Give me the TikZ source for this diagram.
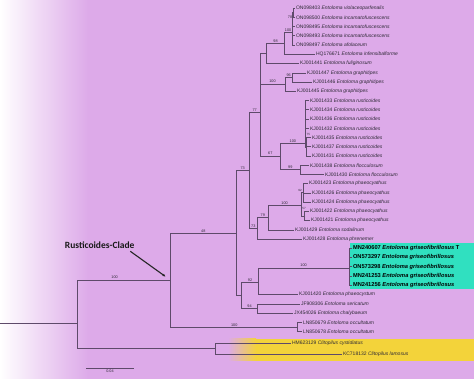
\documentclass[tikz,border=0pt]{standalone}
\usepackage{fontspec}
\setmainfont{Liberation Sans}
\newfontfamily\cladefont{Carlito}
\usetikzlibrary{arrows.meta}
\definecolor{treebg}{HTML}{DDAAE9}
\definecolor{treeline}{HTML}{5E4A6A}
\definecolor{treeink}{HTML}{2E2A36}
\definecolor{newsp}{HTML}{30E0C0}
\definecolor{outgrp}{HTML}{F3D33A}

\begin{document}
\begin{tikzpicture}[x=1pt, y=-1pt,
  br/.style={draw=treeline, line width=0.6pt},
  leaf/.style={anchor=west, inner sep=0.8pt, text=treeink, font=\fontsize{5}{6}\selectfont},
  newleaf/.style={anchor=west, inner sep=0.8pt, text=black, font=\fontsize{5.7}{6}\selectfont\bfseries},
  bs/.style={above, pos=0.75, inner sep=0.8pt, text=treeink, font=\fontsize{3.8}{4}\selectfont},
  bsx/.style={inner sep=0.3pt, text=treeink, font=\fontsize{3}{3}\selectfont},
  clarrow/.style={draw=black!85, line width=1.1pt, -{Latex[length=3.2pt,width=2.8pt]}},
]
\useasboundingbox (0,0) rectangle (474,379);

% ---- backgrounds ----
\fill[treebg] (0,0) rectangle (474,379);
\shade[left color=white, right color=treebg] (0,0) rectangle (88,379);
\fill[newsp] (350,243.3) rectangle (474,289.3);
\shade[left color=treebg, right color=outgrp] (228,339) rectangle (256,361);
\fill[outgrp] (256,339) rectangle (474,361);

% ---- leaves ----
\node[leaf] (l1)  at (295,8.3)   {ON098403 \textit{Entoloma violaceoparfenalis}};
\node[leaf] (l2)  at (295,17.3)  {ON098500 \textit{Entoloma incarnatofuscescens}};
\node[leaf] (l3)  at (295,26.7)  {ON098495 \textit{Entoloma incarnatofuscescens}};
\node[leaf] (l4)  at (295,35.7)  {ON098493 \textit{Entoloma incarnatofuscescens}};
\node[leaf] (l5)  at (295,45)    {ON098497 \textit{Entoloma afolaceum}};
\node[leaf] (l6)  at (315,54.3)  {HQ176671 \textit{Entoloma infensibalforme}};
\node[leaf] (l7)  at (299,63.3)  {KJ001441 \textit{Entoloma fuliginosum}};
\node[leaf] (l8)  at (306,73)    {KJ001447 \textit{Entoloma graphitipes}};
\node[leaf] (l9)  at (312,82)    {KJ001446 \textit{Entoloma graphitipes}};
\node[leaf] (l10) at (296,91.3)  {KJ001445 \textit{Entoloma graphitipes}};
\node[leaf] (l11) at (309,100.7) {KJ001433 \textit{Entoloma rusticoides}};
\node[leaf] (l12) at (309,109.7) {KJ001434 \textit{Entoloma rusticoides}};
\node[leaf] (l13) at (309,119)   {KJ001436 \textit{Entoloma rusticoides}};
\node[leaf] (l14) at (309,128.3) {KJ001432 \textit{Entoloma rusticoides}};
\node[leaf] (l15) at (311,137.7) {KJ001435 \textit{Entoloma rusticoides}};
\node[leaf] (l16) at (311,146.7) {KJ001437 \textit{Entoloma rusticoides}};
\node[leaf] (l17) at (311,156)   {KJ001431 \textit{Entoloma rusticoides}};
\node[leaf] (l18) at (309,165.3) {KJ001438 \textit{Entoloma flocculosum}};
\node[leaf] (l19) at (324,174.3) {KJ001430 \textit{Entoloma flocculosum}};
\node[leaf] (l20) at (308,183.7) {KJ001423 \textit{Entoloma phaeocyathus}};
\node[leaf] (l21) at (311,193)   {KJ001426 \textit{Entoloma phaeocyathus}};
\node[leaf] (l22) at (311,202)   {KJ001424 \textit{Entoloma phaeocyathus}};
\node[leaf] (l23) at (309,211.3) {KJ001422 \textit{Entoloma phaeocyathus}};
\node[leaf] (l24) at (310,220.7) {KJ001421 \textit{Entoloma phaeocyathus}};
\node[leaf] (l25) at (294,230)   {KJ001429 \textit{Entoloma sodalinum}};
\node[leaf] (l26) at (302,239.3) {KJ001428 \textit{Entoloma phrenemer}};
\node[newleaf] (l27) at (352,248.3) {MN240607 \textit{Entoloma griseofibrillosus} T};
\node[newleaf] (l28) at (352,257.3) {ON573297 \textit{Entoloma griseofibrillosus}};
\node[newleaf] (l29) at (352,266.7) {ON573298 \textit{Entoloma griseofibrillosus}};
\node[newleaf] (l30) at (352,276)   {MN241253 \textit{Entoloma griseofibrillosus}};
\node[newleaf] (l31) at (352,285.3) {MN241256 \textit{Entoloma griseofibrillosus}};
\node[leaf] (l32) at (298,294.7) {KJ001420 \textit{Entoloma phaeocystum}};
\node[leaf] (l33) at (300,304)   {JF908306 \textit{Entoloma sericatum}};
\node[leaf] (l34) at (293,313.3) {JX454026 \textit{Entoloma chalybaeum}};
\node[leaf] (l35) at (302,322.7) {LN850679 \textit{Entoloma occultatum}};
\node[leaf] (l36) at (302,331.7) {LN850678 \textit{Entoloma occultatum}};
\node[leaf] (o1)  at (291,343.3) {HM623129 \textit{Clitopilus cystidiatus}};
\node[leaf] (o2)  at (342,354.3) {KC718132 \textit{Clitopilus lamosus}};

% ---- internal nodes ----
\coordinate (r0)    at (0,323.3);
\coordinate (r)     at (77.3,323.3);
\coordinate (nB)    at (170.7,280);
\coordinate (nOut)  at (215.7,348.8);
\coordinate (nC)    at (236,233.3);
\coordinate (nLN)   at (297.7,327.2);
\coordinate (nE)    at (249.3,170.7);
\coordinate (nF)    at (241.7,295);
\coordinate (n77)   at (260,112.7);
\coordinate (n73b)  at (257.3,228.3);
\coordinate (n98)   at (266.7,53.3);
\coordinate (n100a) at (284.3,43.3);
\coordinate (n100b) at (292,32.3);
\coordinate (n78)   at (293.5,12.8);
\coordinate (nGr)   at (285,84);
\coordinate (n96)   at (292.3,77.5);
\coordinate (n67)   at (280.7,156);
\coordinate (nR)    at (305,143.3);
\coordinate (n75)   at (306.5,147);
\coordinate (n99)   at (300,169.8);
\coordinate (n79)   at (268.3,217.3);
\coordinate (nPh)   at (301,205.3);
\coordinate (n92s)  at (303,192.8);
\coordinate (n57)   at (304.5,216);
\coordinate (n92)   at (258.3,282.3);
\coordinate (nG)    at (349,268);
\coordinate (n94)   at (257.3,308.7);

% ---- branches ----
\draw[br] (r0) -- (r);
\draw[br] (r) |- node[bs,pos=0.7]{100} (nB);
\draw[br] (r) |- (nOut);
\draw[br] (nOut) |- (o1.west);
\draw[br] (nOut) |- (o2.west);

\draw[br] (nB) |- node[bs]{48} (nC);
\draw[br] (nB) |- node[bs]{100} (nLN);
\draw[br] (nLN) |- (l35.west);
\draw[br] (nLN) |- (l36.west);

\draw[br] (nC) |- node[bs]{73} (nE);
\draw[br] (nC) |- (nF);

\draw[br] (nE) |- node[bs]{77} (n77);
\draw[br] (nE) |- node[bs]{73} (n73b);

\draw[br] (n77) |- (n98);
\draw[br] (n98) |- node[bs]{98} (n100a);
\draw[br] (n98) |- (l7.west);
\draw[br] (n100a) |- node[bs]{100} (n100b);
\draw[br] (n100a) |- (l6.west);
\draw[br] (n100b) |- (n78);
\foreach \l in {l3,l4,l5} \draw[br] (n100b) |- (\l.west);
\foreach \l in {l1,l2} \draw[br] (n78) |- (\l.west);
\node[bsx, font=\fontsize{3.8}{4}\selectfont] (b78) at (290,17.3) {78};

\draw[br] (n77) |- node[bs]{100} (nGr);
\draw[br] (nGr) |- node[bs]{96} (n96);
\draw[br] (nGr) |- (l10.west);
\foreach \l in {l8,l9} \draw[br] (n96) |- (\l.west);

\draw[br] (n77) |- node[bs]{67} (n67);
\draw[br] (n67) |- node[bs]{100} (nR);
\foreach \l in {l11,l12,l13,l14} \draw[br] (nR) |- (\l.west);
\draw[br] (nR) |- (n75);
\foreach \l in {l15,l16,l17} \draw[br] (n75) |- (\l.west);
\node[bsx] (b75) at (308.3,134.3) {75};
\draw[br] (n67) |- node[bs]{99} (n99);
\foreach \l in {l18,l19} \draw[br] (n99) |- (\l.west);

\draw[br] (n73b) |- node[bs]{79} (n79);
\draw[br] (n73b) |- (l26.west);
\draw[br] (n79) |- node[bs]{100} (nPh);
\draw[br] (n79) |- (l25.west);
\draw[br] (nPh) |- (n92s);
\draw[br] (nPh) |- (n57);
\foreach \l in {l20,l21,l22} \draw[br] (n92s) |- (\l.west);
\foreach \l in {l23,l24} \draw[br] (n57) |- (\l.west);
\node[bsx] (b92s) at (300,190.7) {92};
\node[bsx] (b57) at (304,208.3) {57};

\draw[br] (nF) |- node[bs]{92} (n92);
\draw[br] (nF) |- node[bs]{94} (n94);
\draw[br] (n92) |- node[bs]{100} (nG);
\draw[br] (n92) |- (l32.west);
\foreach \l in {l27,l28,l29,l30,l31} \draw[br] (nG) |- (\l.west);
\foreach \l in {l33,l34} \draw[br] (n94) |- (\l.west);

% ---- clade label and scale ----
\node[font=\cladefont\bfseries\fontsize{9.5}{11}\selectfont, text=black!90, inner sep=0pt] (rclade) at (99.7,245) {Rusticoides-Clade};
\coordinate (rtip) at (165.7,276.7);
\draw[clarrow] ([xshift=-4.4pt,yshift=-2.7pt]rclade.south east) -- (rtip);

\coordinate (sb1) at (86,368.3);
\coordinate (sb2) at (134,368.3);
\draw[br] (sb1) -- node[below, inner sep=1.2pt, text=treeink, font=\fontsize{3.8}{4}\selectfont]{0.04} (sb2);

\end{tikzpicture}
\end{document}
